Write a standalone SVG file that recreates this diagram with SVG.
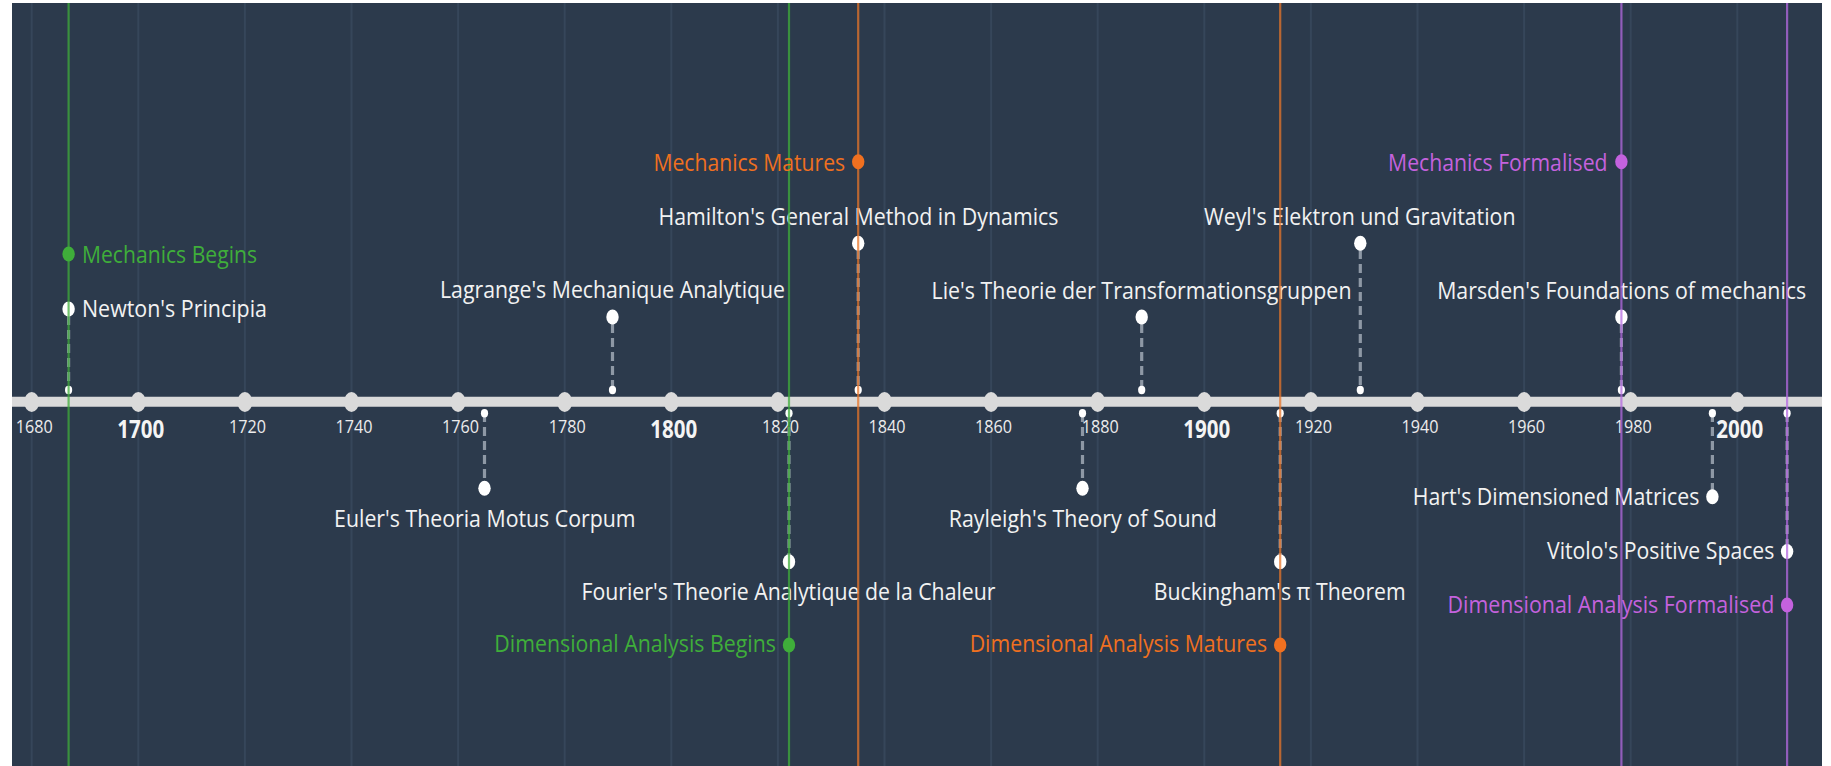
<svg xmlns="http://www.w3.org/2000/svg" width="1831" height="766" viewBox="0 0 1831 766">
<style>
.bg{fill:#2c3a4c}
.grid{stroke:#36465a;stroke-width:2}
.axis{stroke:#dadada;stroke-width:10}
.tick{fill:#dadada}
.yr{font-family:"Open Sans","Liberation Sans",sans-serif;font-size:18px;fill:#ececec;text-anchor:middle}
.yrb{font-family:"Open Sans","Liberation Sans",sans-serif;font-size:25px;font-weight:bold;fill:#f4f4f4;text-anchor:middle}
.lbl{font-family:"Open Sans","Liberation Sans",sans-serif;font-size:24px;fill:#f2f2f2}
.conn{stroke:#8e98a5;stroke-width:3.2;stroke-dasharray:9 5;fill:none}
.dot{fill:#ffffff}
.sdot{fill:#ffffff}
.g{fill:#3fae3a}
.o{fill:#f07020}
.p{fill:#c462de}
.era{stroke-width:2.2;stroke-opacity:0.75}
.eg{stroke:#3fae3a}
.eo{stroke:#e8762a}
.ep{stroke:#b46ae0}
</style>
<rect x="0" y="0" width="1831" height="766" fill="#ffffff"/>
<rect class="bg" x="12" y="3" width="1810" height="763"/>
<g id="grid">
<line class="grid" x1="31.7" y1="3" x2="31.7" y2="766"/>
<line class="grid" x1="138.3" y1="3" x2="138.3" y2="766"/>
<line class="grid" x1="244.9" y1="3" x2="244.9" y2="766"/>
<line class="grid" x1="351.5" y1="3" x2="351.5" y2="766"/>
<line class="grid" x1="458.1" y1="3" x2="458.1" y2="766"/>
<line class="grid" x1="564.7" y1="3" x2="564.7" y2="766"/>
<line class="grid" x1="671.3" y1="3" x2="671.3" y2="766"/>
<line class="grid" x1="777.9" y1="3" x2="777.9" y2="766"/>
<line class="grid" x1="884.5" y1="3" x2="884.5" y2="766"/>
<line class="grid" x1="991.1" y1="3" x2="991.1" y2="766"/>
<line class="grid" x1="1097.7" y1="3" x2="1097.7" y2="766"/>
<line class="grid" x1="1204.3" y1="3" x2="1204.3" y2="766"/>
<line class="grid" x1="1310.9" y1="3" x2="1310.9" y2="766"/>
<line class="grid" x1="1417.5" y1="3" x2="1417.5" y2="766"/>
<line class="grid" x1="1524.1" y1="3" x2="1524.1" y2="766"/>
<line class="grid" x1="1630.7" y1="3" x2="1630.7" y2="766"/>
<line class="grid" x1="1737.3" y1="3" x2="1737.3" y2="766"/>
</g>
<g id="axis">
<line class="axis" x1="12" y1="401.7" x2="1822" y2="401.7"/>
<ellipse class="tick" cx="31.7" cy="402" rx="7.5" ry="10"/>
<ellipse class="tick" cx="138.3" cy="402" rx="7.5" ry="10"/>
<ellipse class="tick" cx="244.9" cy="402" rx="7.5" ry="10"/>
<ellipse class="tick" cx="351.5" cy="402" rx="7.5" ry="10"/>
<ellipse class="tick" cx="458.1" cy="402" rx="7.5" ry="10"/>
<ellipse class="tick" cx="564.7" cy="402" rx="7.5" ry="10"/>
<ellipse class="tick" cx="671.3" cy="402" rx="7.5" ry="10"/>
<ellipse class="tick" cx="777.9" cy="402" rx="7.5" ry="10"/>
<ellipse class="tick" cx="884.5" cy="402" rx="7.5" ry="10"/>
<ellipse class="tick" cx="991.1" cy="402" rx="7.5" ry="10"/>
<ellipse class="tick" cx="1097.7" cy="402" rx="7.5" ry="10"/>
<ellipse class="tick" cx="1204.3" cy="402" rx="7.5" ry="10"/>
<ellipse class="tick" cx="1310.9" cy="402" rx="7.5" ry="10"/>
<ellipse class="tick" cx="1417.5" cy="402" rx="7.5" ry="10"/>
<ellipse class="tick" cx="1524.1" cy="402" rx="7.5" ry="10"/>
<ellipse class="tick" cx="1630.7" cy="402" rx="7.5" ry="10"/>
<ellipse class="tick" cx="1737.3" cy="402" rx="7.5" ry="10"/>
<text class="yr" x="34.2" y="433" textLength="37" lengthAdjust="spacingAndGlyphs">1680</text>
<text class="yrb" x="140.8" y="438" textLength="47" lengthAdjust="spacingAndGlyphs">1700</text>
<text class="yr" x="247.4" y="433" textLength="37" lengthAdjust="spacingAndGlyphs">1720</text>
<text class="yr" x="354" y="433" textLength="37" lengthAdjust="spacingAndGlyphs">1740</text>
<text class="yr" x="460.6" y="433" textLength="37" lengthAdjust="spacingAndGlyphs">1760</text>
<text class="yr" x="567.2" y="433" textLength="37" lengthAdjust="spacingAndGlyphs">1780</text>
<text class="yrb" x="673.8" y="438" textLength="47" lengthAdjust="spacingAndGlyphs">1800</text>
<text class="yr" x="780.4" y="433" textLength="37" lengthAdjust="spacingAndGlyphs">1820</text>
<text class="yr" x="887" y="433" textLength="37" lengthAdjust="spacingAndGlyphs">1840</text>
<text class="yr" x="993.6" y="433" textLength="37" lengthAdjust="spacingAndGlyphs">1860</text>
<text class="yr" x="1100.2" y="433" textLength="37" lengthAdjust="spacingAndGlyphs">1880</text>
<text class="yrb" x="1206.8" y="438" textLength="47" lengthAdjust="spacingAndGlyphs">1900</text>
<text class="yr" x="1313.4" y="433" textLength="37" lengthAdjust="spacingAndGlyphs">1920</text>
<text class="yr" x="1420" y="433" textLength="37" lengthAdjust="spacingAndGlyphs">1940</text>
<text class="yr" x="1526.6" y="433" textLength="37" lengthAdjust="spacingAndGlyphs">1960</text>
<text class="yr" x="1633.2" y="433" textLength="37" lengthAdjust="spacingAndGlyphs">1980</text>
<text class="yrb" x="1739.8" y="438" textLength="47" lengthAdjust="spacingAndGlyphs">2000</text>
</g>
<g id="connectors">
<line class="conn" x1="68.6" y1="316" x2="68.6" y2="390"/>
<line class="conn" x1="612.5" y1="324" x2="612.5" y2="390"/>
<line class="conn" x1="858.2" y1="250" x2="858.2" y2="390"/>
<line class="conn" x1="1141.7" y1="324" x2="1141.7" y2="390"/>
<line class="conn" x1="1360.3" y1="250" x2="1360.3" y2="390"/>
<line class="conn" x1="1621.4" y1="324" x2="1621.4" y2="390"/>
<line class="conn" x1="484.5" y1="413" x2="484.5" y2="481"/>
<line class="conn" x1="789" y1="413" x2="789" y2="555"/>
<line class="conn" x1="1082.5" y1="413" x2="1082.5" y2="481"/>
<line class="conn" x1="1280.2" y1="413" x2="1280.2" y2="555"/>
<line class="conn" x1="1712.4" y1="413" x2="1712.4" y2="490"/>
<line class="conn" x1="1787.1" y1="413" x2="1787.1" y2="545"/>
</g>
<g id="newton">
<ellipse class="sdot" cx="68.6" cy="390" rx="3.6" ry="4.2"/>
<ellipse class="dot" cx="68.6" cy="309" rx="6.2" ry="7.5"/>
<text class="lbl" x="82" y="317" textLength="185" lengthAdjust="spacingAndGlyphs">Newton's Principia</text>
</g>
<g id="lagrange">
<ellipse class="sdot" cx="612.5" cy="390" rx="3.6" ry="4.2"/>
<ellipse class="dot" cx="612.5" cy="317" rx="6.2" ry="7.5"/>
<text class="lbl" x="440" y="298" textLength="345" lengthAdjust="spacingAndGlyphs">Lagrange's Mechanique Analytique</text>
</g>
<g id="hamilton">
<ellipse class="sdot" cx="858.2" cy="390" rx="3.6" ry="4.2"/>
<ellipse class="dot" cx="858.2" cy="243.3" rx="6.2" ry="7.5"/>
<text class="lbl" x="658.5" y="225" textLength="400" lengthAdjust="spacingAndGlyphs">Hamilton's General Method in Dynamics</text>
</g>
<g id="lie">
<ellipse class="sdot" cx="1141.7" cy="390" rx="3.6" ry="4.2"/>
<ellipse class="dot" cx="1141.7" cy="317" rx="6.2" ry="7.5"/>
<text class="lbl" x="931.5" y="299" textLength="420" lengthAdjust="spacingAndGlyphs">Lie's Theorie der Transformationsgruppen</text>
</g>
<g id="weyl">
<ellipse class="sdot" cx="1360.3" cy="390" rx="3.6" ry="4.2"/>
<ellipse class="dot" cx="1360.3" cy="243.3" rx="6.2" ry="7.5"/>
<text class="lbl" x="1204" y="225" textLength="311.5" lengthAdjust="spacingAndGlyphs">Weyl's Elektron und Gravitation</text>
</g>
<g id="marsden">
<ellipse class="sdot" cx="1621.4" cy="390" rx="3.6" ry="4.2"/>
<ellipse class="dot" cx="1621.4" cy="317" rx="6.2" ry="7.5"/>
<text class="lbl" x="1437.2" y="299" textLength="369" lengthAdjust="spacingAndGlyphs">Marsden's Foundations of mechanics</text>
</g>
<g id="euler">
<ellipse class="sdot" cx="484.5" cy="413.3" rx="3.6" ry="4.2"/>
<ellipse class="dot" cx="484.5" cy="488.3" rx="6.2" ry="7.5"/>
<text class="lbl" x="334.1" y="526.5" textLength="301.5" lengthAdjust="spacingAndGlyphs">Euler's Theoria Motus Corpum</text>
</g>
<g id="fourier">
<ellipse class="sdot" cx="789" cy="413.3" rx="3.6" ry="4.2"/>
<ellipse class="dot" cx="789" cy="561.7" rx="6.2" ry="7.5"/>
<text class="lbl" x="581.5" y="600" textLength="414" lengthAdjust="spacingAndGlyphs">Fourier's Theorie Analytique de la Chaleur</text>
</g>
<g id="rayleigh">
<ellipse class="sdot" cx="1082.5" cy="413.3" rx="3.6" ry="4.2"/>
<ellipse class="dot" cx="1082.5" cy="488.3" rx="6.2" ry="7.5"/>
<text class="lbl" x="948.8" y="526.5" textLength="268" lengthAdjust="spacingAndGlyphs">Rayleigh's Theory of Sound</text>
</g>
<g id="buckingham">
<ellipse class="sdot" cx="1280.2" cy="413.3" rx="3.6" ry="4.2"/>
<ellipse class="dot" cx="1280.2" cy="561.7" rx="6.2" ry="7.5"/>
<text class="lbl" x="1153.7" y="600" textLength="252" lengthAdjust="spacingAndGlyphs">Buckingham's π Theorem</text>
</g>
<g id="hart">
<ellipse class="sdot" cx="1712.4" cy="413.3" rx="3.6" ry="4.2"/>
<ellipse class="dot" cx="1712.4" cy="496.7" rx="6.2" ry="7.5"/>
<text class="lbl" x="1412.7" y="505" textLength="286.6" lengthAdjust="spacingAndGlyphs">Hart's Dimensioned Matrices</text>
</g>
<g id="vitolo">
<ellipse class="sdot" cx="1787.1" cy="413.3" rx="3.6" ry="4.2"/>
<ellipse class="dot" cx="1787.1" cy="551.5" rx="6.2" ry="7.5"/>
<text class="lbl" x="1547" y="559" textLength="227.4" lengthAdjust="spacingAndGlyphs">Vitolo's Positive Spaces</text>
</g>
<g id="era-lines">
<line class="era eg" x1="68.6" y1="3" x2="68.6" y2="766"/>
<line class="era eg" x1="789" y1="3" x2="789" y2="766"/>
<line class="era eo" x1="858.2" y1="3" x2="858.2" y2="766"/>
<line class="era eo" x1="1280.2" y1="3" x2="1280.2" y2="766"/>
<line class="era ep" x1="1621.4" y1="3" x2="1621.4" y2="766"/>
<line class="era ep" x1="1787.1" y1="3" x2="1787.1" y2="766"/>
</g>
<g id="mechanics-begins">
<ellipse class="g" cx="68.6" cy="254" rx="6.2" ry="7.5"/>
<text class="lbl g" x="82" y="263" textLength="175" lengthAdjust="spacingAndGlyphs">Mechanics Begins</text>
</g>
<g id="dimensional-analysis-begins">
<ellipse class="g" cx="789" cy="645" rx="6.2" ry="7.5"/>
<text class="lbl g" x="494.3" y="652" textLength="281.7" lengthAdjust="spacingAndGlyphs">Dimensional Analysis Begins</text>
</g>
<g id="mechanics-matures">
<ellipse class="o" cx="858.2" cy="161.7" rx="6.2" ry="7.5"/>
<text class="lbl o" x="653.4" y="171" textLength="191.8" lengthAdjust="spacingAndGlyphs">Mechanics Matures</text>
</g>
<g id="dimensional-analysis-matures">
<ellipse class="o" cx="1280.2" cy="645" rx="6.2" ry="7.5"/>
<text class="lbl o" x="969.7" y="652" textLength="297.4" lengthAdjust="spacingAndGlyphs">Dimensional Analysis Matures</text>
</g>
<g id="mechanics-formalised">
<ellipse class="p" cx="1621.4" cy="161.7" rx="6.2" ry="7.5"/>
<text class="lbl p" x="1388.1" y="171" textLength="219.5" lengthAdjust="spacingAndGlyphs">Mechanics Formalised</text>
</g>
<g id="dimensional-analysis-formalised">
<ellipse class="p" cx="1787.1" cy="605" rx="6.2" ry="7.5"/>
<text class="lbl p" x="1447.5" y="613" textLength="326.8" lengthAdjust="spacingAndGlyphs">Dimensional Analysis Formalised</text>
</g>
</svg>
